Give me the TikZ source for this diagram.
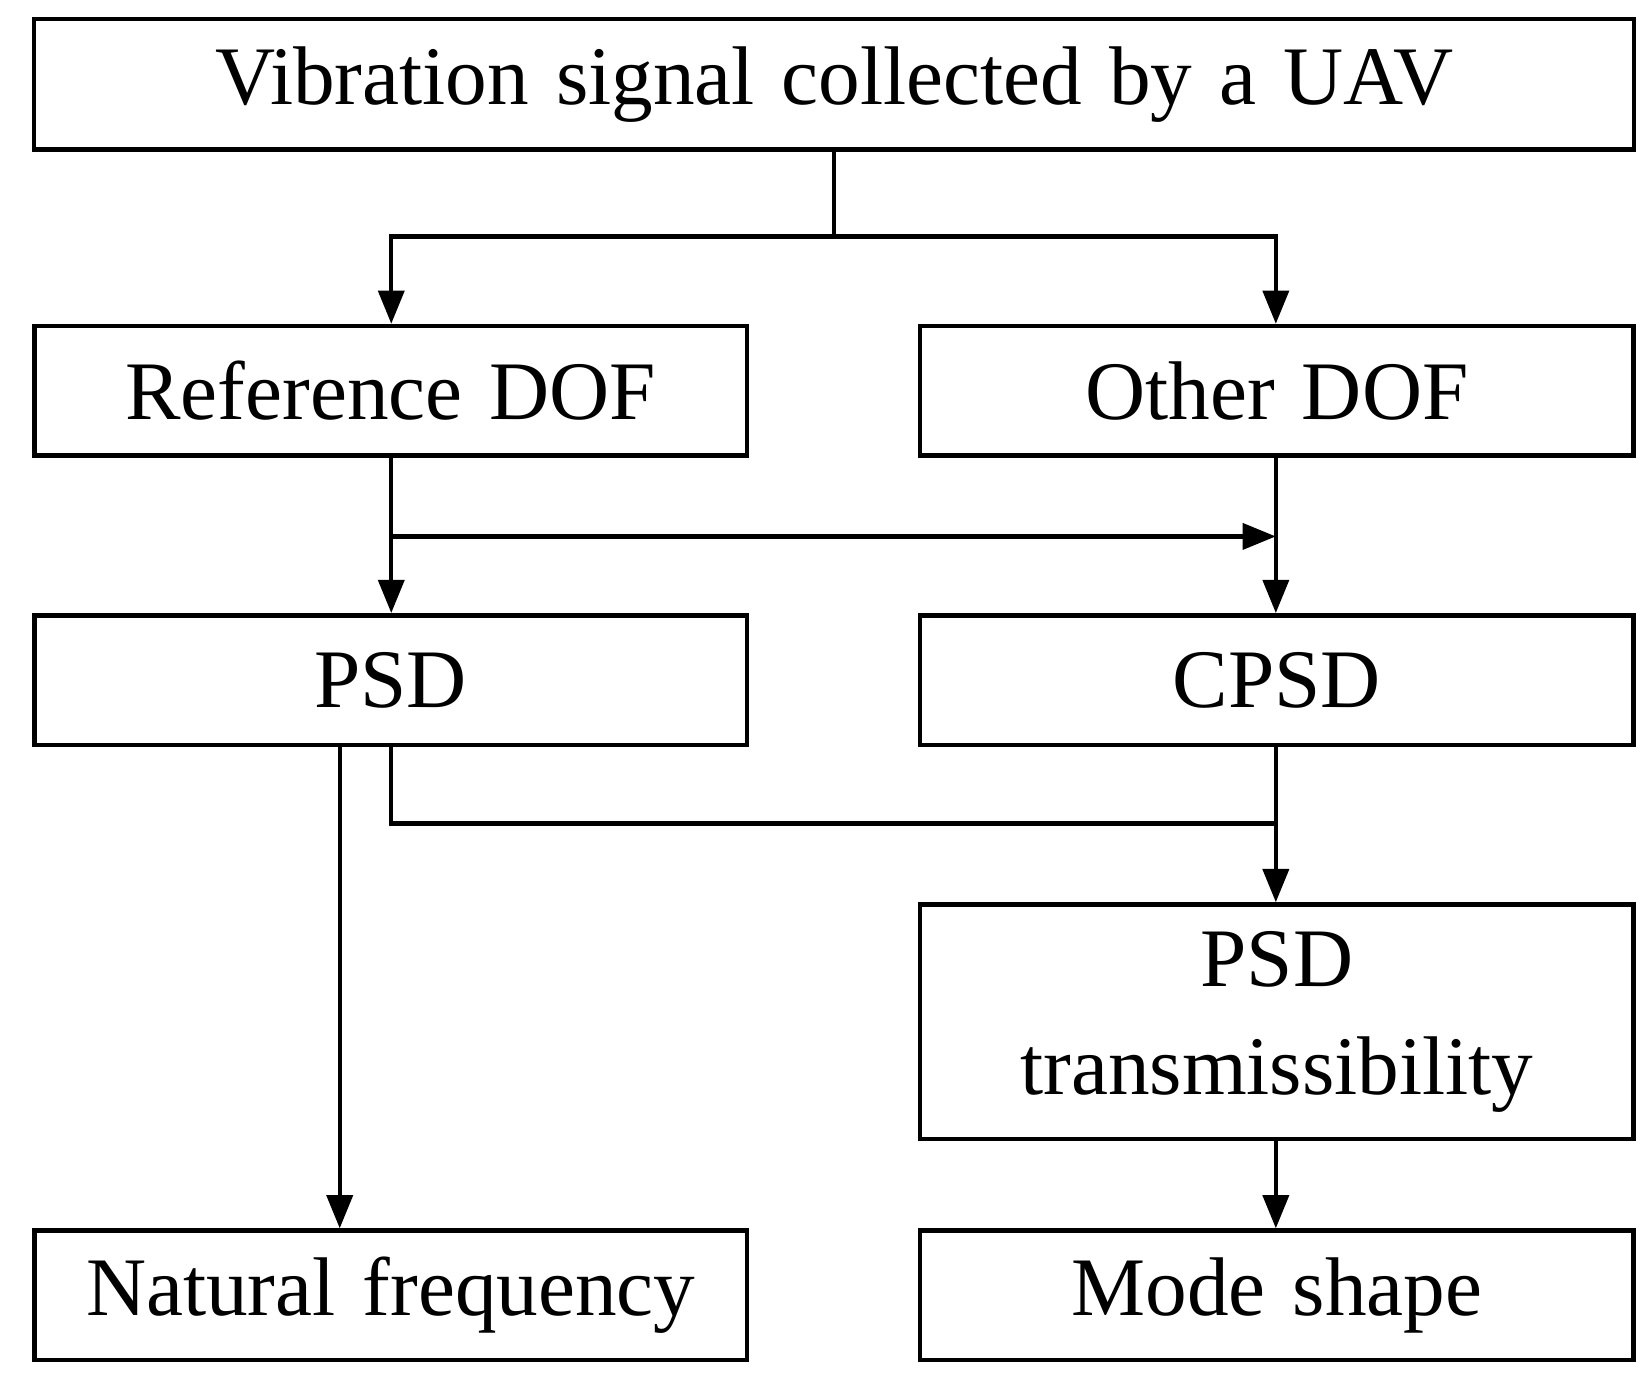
\documentclass[tikz,border=0pt]{standalone}
\usepackage{fontspec}
\setmainfont{Liberation Serif}[WordSpace=1.3]
\usetikzlibrary{arrows.meta}
\begin{document}
\begin{tikzpicture}[x=0.01cm,y=-0.01cm,
  box/.style={draw,line width=1.2pt,inner sep=0pt,font=\fontsize{22.5}{27}\selectfont,align=center},
  arr/.style={line width=1.2pt,-{Triangle[length=9pt,width=7pt]}},
  ln/.style={line width=1.2pt}]
\useasboundingbox (0,0) rectangle (1564,1308);
\node[box,minimum width=15.2cm,minimum height=1.24cm] (top) at (793,80) {Vibration signal collected by a UAV};
\node[box,minimum width=6.77cm,minimum height=1.23cm] (ref) at (371.5,371.5) {Reference DOF};
\node[box,minimum width=6.78cm,minimum height=1.23cm] (oth) at (1214,371.5) {Other DOF};
\node[box,minimum width=6.77cm,minimum height=1.23cm] (psd) at (371.5,646.5) {PSD};
\node[box,minimum width=6.78cm,minimum height=1.23cm] (cpsd) at (1214,646.5) {CPSD};
\node[box,minimum width=6.78cm,minimum height=2.23cm] (tr) at (1214,971.5) {PSD\\[2pt]transmissibility};
\node[box,minimum width=6.77cm,minimum height=1.23cm] (nf) at (371.5,1231.5) {Natural frequency};
\node[box,minimum width=6.78cm,minimum height=1.23cm] (ms) at (1214,1231.5) {Mode shape};
\coordinate (s1) at (793,225);
\coordinate (s2) at (372,510);
\coordinate (s3) at (372,783);
\draw[ln] (top.south -| s1) -- (s1);
\draw[arr] (s1) -| (ref.north -| 372,0);
\draw[arr] (s1) -| (oth.north -| 1213,0);
\draw[arr] (ref.south -| 372,0) -- (psd.north -| 372,0);
\draw[arr] (s2) -- (1213,510);
\draw[arr] (oth.south -| 1213,0) -- (cpsd.north -| 1213,0);
\draw[arr] (psd.south -| 323,0) -- (nf.north -| 323,0);
\draw[ln] (psd.south -| s3) -- (s3) -- (1213,783);
\draw[arr] (cpsd.south -| 1213,0) -- (tr.north -| 1213,0);
\draw[arr] (tr.south -| 1213,0) -- (ms.north -| 1213,0);
\end{tikzpicture}
\end{document}
